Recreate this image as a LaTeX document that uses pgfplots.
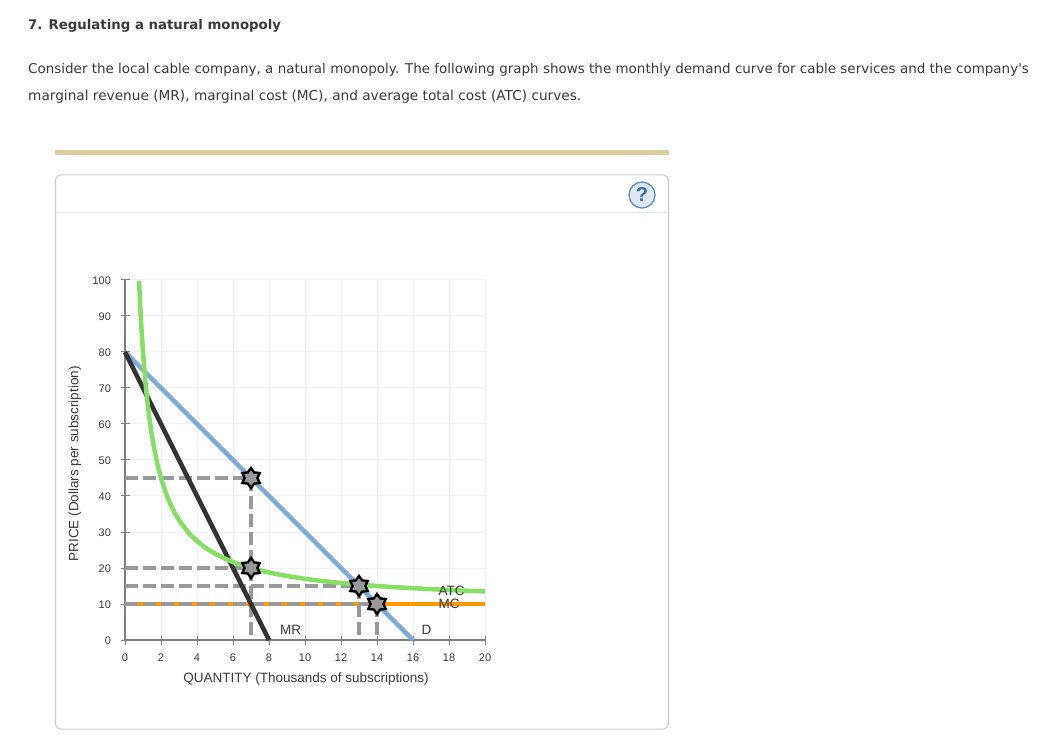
\documentclass[border=0pt]{standalone}
\usepackage{fontspec}
\usepackage{pgfplots}
\pgfplotsset{compat=1.18}
\setmainfont{Liberation Sans}
\newfontfamily\djv{DejaVu Sans}
\definecolor{txt}{HTML}{3A3A3A}
\definecolor{dblue}{HTML}{7FA9D6}
\definecolor{mrblack}{HTML}{333333}
\definecolor{atcgreen}{HTML}{88DD66}
\definecolor{mcorange}{HTML}{FF9900}
\definecolor{dashgrey}{HTML}{999999}
\definecolor{barc}{HTML}{DCCF9F}
\definecolor{panec}{HTML}{C8C8C8}
\definecolor{sepc}{HTML}{E4E4E4}
\definecolor{qedge}{HTML}{5F8FBD}
\definecolor{qfill}{HTML}{DFE8F1}
\definecolor{qtext}{HTML}{3B6EA5}
\definecolor{gridc}{HTML}{F0F0F0}
\pgfdeclareplotmark{dstar}{%
  \pgfpathmoveto{\pgfpointpolar{90}{10pt}}%
  \pgfpathlineto{\pgfpointpolar{120}{6.4pt}}%
  \pgfpathlineto{\pgfpointpolar{150}{10pt}}%
  \pgfpathlineto{\pgfpointpolar{180}{6.4pt}}%
  \pgfpathlineto{\pgfpointpolar{210}{10pt}}%
  \pgfpathlineto{\pgfpointpolar{240}{6.4pt}}%
  \pgfpathlineto{\pgfpointpolar{270}{10pt}}%
  \pgfpathlineto{\pgfpointpolar{300}{6.4pt}}%
  \pgfpathlineto{\pgfpointpolar{330}{10pt}}%
  \pgfpathlineto{\pgfpointpolar{0}{6.4pt}}%
  \pgfpathlineto{\pgfpointpolar{30}{10pt}}%
  \pgfpathlineto{\pgfpointpolar{60}{6.4pt}}%
  \pgfpathclose
  \pgfusepathqfillstroke}
\begin{document}
\begin{tikzpicture}[x=1pt,y=1pt]
\path[use as bounding box,fill=white] (0,0) rectangle (1046,739);
\node[anchor=base west,inner sep=0pt,text=txt,font=\djv\bfseries\fontsize{13.3}{17}\selectfont] at (28,709) {7. Regulating a natural monopoly};
\node[anchor=base west,inner sep=0pt,text=txt,font=\djv\fontsize{13.48}{16}\selectfont] at (28,665) {Consider the local cable company, a natural monopoly. The following graph shows the monthly demand curve for cable services and the company's};
\node[anchor=base west,inner sep=0pt,text=txt,font=\djv\fontsize{13.68}{16}\selectfont] at (28,638) {marginal revenue (MR), marginal cost (MC), and average total cost (ATC) curves.};
\fill[barc] (55,584) rectangle (669,589);
\draw[panec,line width=1pt,rounded corners=5pt] (55.5,10) rectangle (668.5,564);
\draw[sepc,line width=1pt] (57,526.5) -- (667,526.5);
\draw[qedge,fill=qfill,line width=1.3pt] (642,544) circle [radius=13pt];
\node[text=qtext,font=\bfseries\fontsize{20}{22}\selectfont,inner sep=0pt] at (642,544) {?};
\begin{axis}[
  at={(125pt,99pt)},anchor=south west,scale only axis,width=360pt,height=360pt,
  xmin=0,xmax=20,ymin=0,ymax=100,
  axis lines=left,axis line style={-,color=gray,line width=1.2pt},
  xtick={0,2,4,6,8,10,12,14,16,18,20},ytick={0,10,20,30,40,50,60,70,80,90,100},
  tick align=center,major tick length=9pt,
  tick style={color=gray,line width=1pt},
  grid=major,grid style={color=gridc,line width=1pt},
  tick label style={font=\fontsize{11}{13}\selectfont,text=txt,/pgf/number format/assume math mode=true},
  xticklabel style={yshift=-6pt},
  yticklabel style={xshift=-6pt,yshift=-0.5pt},
  label style={font=\fontsize{13.5}{16}\selectfont,text=txt},
  xlabel={QUANTITY (Thousands of subscriptions)},
  ylabel={PRICE (Dollars per subscription)},
  xlabel style={at={(axis description cs:0.503,-0.108)},anchor=center},
  ylabel style={at={(axis description cs:-0.139,0.489)},anchor=center},
  clip=false,
]
\addplot[mcorange,line width=4.5pt] coordinates {(0,10) (20,10)};
\addplot[dashgrey,line width=4pt,dash pattern=on 13pt off 5pt] coordinates {(0,45) (7,45)};
\addplot[dashgrey,line width=4pt,dash pattern=on 13pt off 5pt] coordinates {(7,45) (7,0)};
\addplot[dashgrey,line width=4pt,dash pattern=on 13pt off 5pt] coordinates {(0,20) (7,20)};
\addplot[dashgrey,line width=4pt,dash pattern=on 13pt off 5pt] coordinates {(0,15) (13,15)};
\addplot[dashgrey,line width=4pt,dash pattern=on 13pt off 5pt] coordinates {(13,15) (13,0)};
\addplot[dashgrey,line width=4pt,dash pattern=on 13pt off 5pt] coordinates {(0,10) (14,10)};
\addplot[dashgrey,line width=4pt,dash pattern=on 13pt off 5pt] coordinates {(14,10) (14,0)};
\addplot[dblue,line width=4.5pt] coordinates {(0,80) (16,0)};
\addplot[mrblack,line width=4.5pt] coordinates {(0,80) (8,0)};
\addplot[atcgreen,line width=4.5pt,smooth] coordinates {
(0.78,99.74) (0.85,92.35) (0.9,87.78) (1,80) (1.1,73.64) (1.2,68.33) (1.3,63.85) (1.4,60) (1.5,56.67) (1.6,53.75) (1.8,48.89) (2,45) (2.25,41.11) (2.5,38) (2.75,35.45) (3,33.33) (3.5,30) (4,27.5) (4.5,25.56) (5,24) (5.5,22.73) (6,21.67) (7,20) (8,18.75) (9,17.78) (10,17) (11,16.36) (12,15.83) (13,15.38) (14,15) (15,14.67) (16,14.38) (17,14.12) (18,13.89) (19,13.68) (20,13.5)};
\addplot[only marks,mark=dstar,mark options={draw=black,fill=dashgrey,line width=2.4pt}] coordinates {(7,45) (7,20) (13,15) (14,10)};
\node[font=\fontsize{13.5}{16}\selectfont,text=txt,inner sep=0pt] at (axis cs:18.15,13.7) {ATC};
\node[font=\fontsize{13.5}{16}\selectfont,text=txt,inner sep=0pt] at (axis cs:18,10) {MC};
\node[font=\fontsize{13.5}{16}\selectfont,text=txt,inner sep=0pt] at (axis cs:9.2,2.9) {MR};
\node[font=\fontsize{13.5}{16}\selectfont,text=txt,inner sep=0pt] at (axis cs:16.75,2.9) {D};
\end{axis}
\end{tikzpicture}
\end{document}
